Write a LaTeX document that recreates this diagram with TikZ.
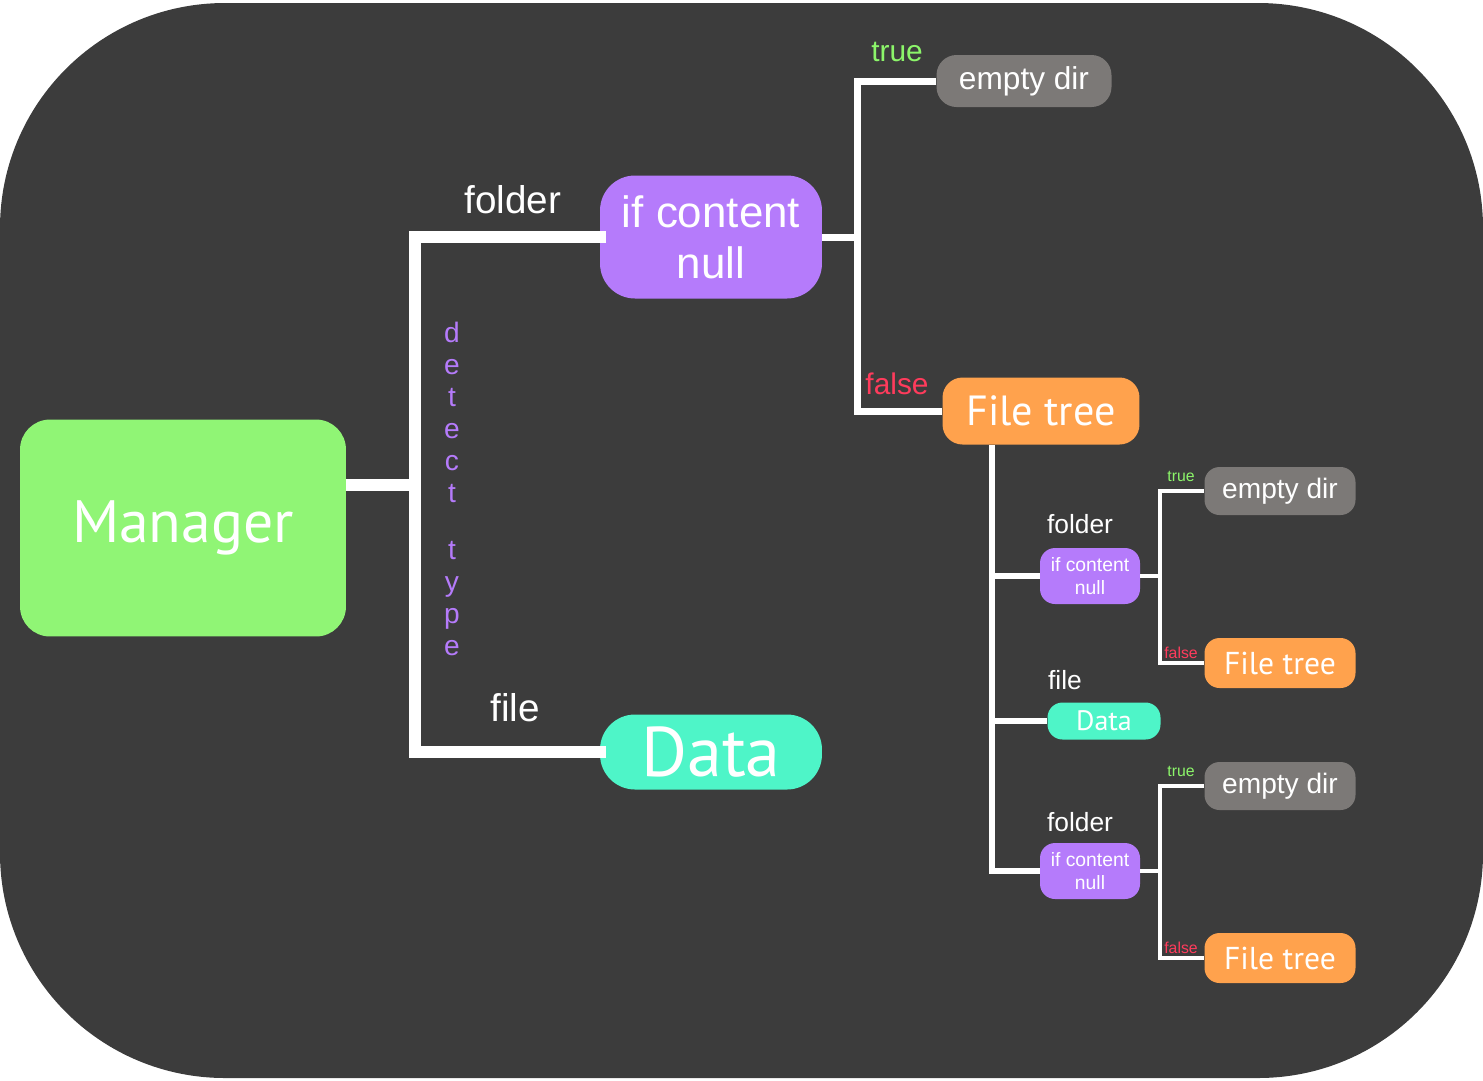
\documentclass[tikz,border=0pt]{standalone}
\usepackage{fontspec}
\setmainfont{Liberation Sans}
\newfontfamily\tfont{PT Sans}
\usetikzlibrary{positioning}
\definecolor{bg}{HTML}{3C3C3C}
\definecolor{mgr}{HTML}{90F575}
\definecolor{pur}{HTML}{B57BFB}
\definecolor{teal}{HTML}{4EF5C8}
\definecolor{gry}{HTML}{7C7977}
\definecolor{org}{HTML}{FFA24D}
\definecolor{tgreen}{HTML}{8CF56A}
\definecolor{fred}{HTML}{FF3B5C}
\begin{document}
\begin{tikzpicture}[x=0.02cm,y=-0.02cm,
  box/.style={fill=#1,text=white,rounded corners=0.4cm,inner sep=0pt,align=center},
  big/.style={line width=0.24cm,white},
  small/.style={line width=0.1cm,white},
  lab/.style={text=white,inner sep=0pt},
  fs/.style={font=\fontsize{#1}{#1}\selectfont}]
\useasboundingbox (0,0) rectangle (1483,1080);
\fill[bg,rounded corners=4.5cm] (0,3) rectangle (1483,1078);
% Manager level
\node[box=mgr,minimum width=6.52cm,minimum height=4.34cm,rounded corners=0.6cm,font=\tfont\fontsize{34}{34}\selectfont] (m) at (183,528) {Manager};
\node[box=pur,minimum width=4.44cm,minimum height=2.46cm,rounded corners=0.7cm,font=\fontsize{25}{29}\selectfont] (ic) at (711,237) {if content\\null};
\node[box=teal,minimum width=4.44cm,minimum height=1.5cm,rounded corners=0.7cm,font=\tfont\fontsize{40}{40}\selectfont] (d) at (711,752) {Data};
\coordinate (j1) at (415,485);
\draw[big] (m.east |- j1) -- (j1);
\draw[big,line cap=rect] (ic.west) -| (j1) |- (d.west);
\node[lab,fs=22] at (513,200) {folder};
\node[lab,fs=22] at (515,708) {file};
\node[text=pur,align=center,font=\fontsize{16}{18.2}\selectfont] at (452,489) {d\\e\\t\\e\\c\\t\\[14pt]t\\y\\p\\e};
% level 2
\node[box=gry,minimum width=3.5cm,minimum height=1.04cm,font=\fontsize{18}{18}\selectfont] (e1) at (1024,81) {empty dir};
\node[box=org,minimum width=3.94cm,minimum height=1.34cm,font=\tfont\fontsize{24}{24}\selectfont] (f1) at (1041,411) {File tree};
\coordinate (j2) at (857,237);
\draw[big,line width=0.14cm] (ic.east) -- (j2);
\draw[big,line width=0.14cm] (e1.west) -| (j2) |- (f1.west);
\node[text=tgreen,inner sep=0pt,fs=17] at (897,52) {true};
\node[text=fred,inner sep=0pt,fs=17] at (897,384) {false};
% level 3
\node[box=pur,minimum width=2cm,minimum height=1.12cm,rounded corners=0.3cm,font=\fontsize{11}{13}\selectfont] (ica) at (1090,576) {if content\\null};
\node[box=teal,minimum width=2.26cm,minimum height=0.74cm,rounded corners=0.3cm,font=\tfont\fontsize{16}{16}\selectfont] (da) at (1104,721) {Data};
\node[box=pur,minimum width=2cm,minimum height=1.12cm,rounded corners=0.3cm,font=\fontsize{11}{13}\selectfont] (icb) at (1090,871) {if content\\null};
\coordinate (j3) at (992,871);
\draw[small,line width=0.12cm] (f1.south -| j3) -- (j3) -- (icb.west);
\draw[small,line width=0.12cm] (ica.west -| j3) -- (ica.west);
\draw[small,line width=0.12cm] (da.west -| j3) -- (da.west);
\node[lab,fs=15] at (1080,524) {folder};
\node[lab,fs=15] at (1065,680) {file};
\node[lab,fs=15] at (1080,822) {folder};
% level 4
\foreach \n/\y/\ic in {a/0/ica,b/295/icb}{
  \node[box=gry,minimum width=3.02cm,minimum height=0.96cm,rounded corners=0.3cm,font=\fontsize{16}{16}\selectfont] (e\n) at (1280,491+\y) {empty dir};
  \node[box=org,minimum width=3.02cm,minimum height=1cm,rounded corners=0.3cm,font=\tfont\fontsize{18}{18}\selectfont] (f\n) at (1280,663+\y) {File tree};
  \coordinate (k\n) at (1160,576+\y);
  \draw[small,line width=0.07cm] (\ic.east) -- (k\n);
  \draw[small,line width=0.07cm] (e\n.west) -| (k\n) |- (f\n.west);
  \node[text=tgreen,inner sep=0pt,fs=9] at (1181,476+\y) {true};
  \node[text=fred,inner sep=0pt,fs=9] at (1181,653+\y) {false};
}
\end{tikzpicture}
\end{document}
